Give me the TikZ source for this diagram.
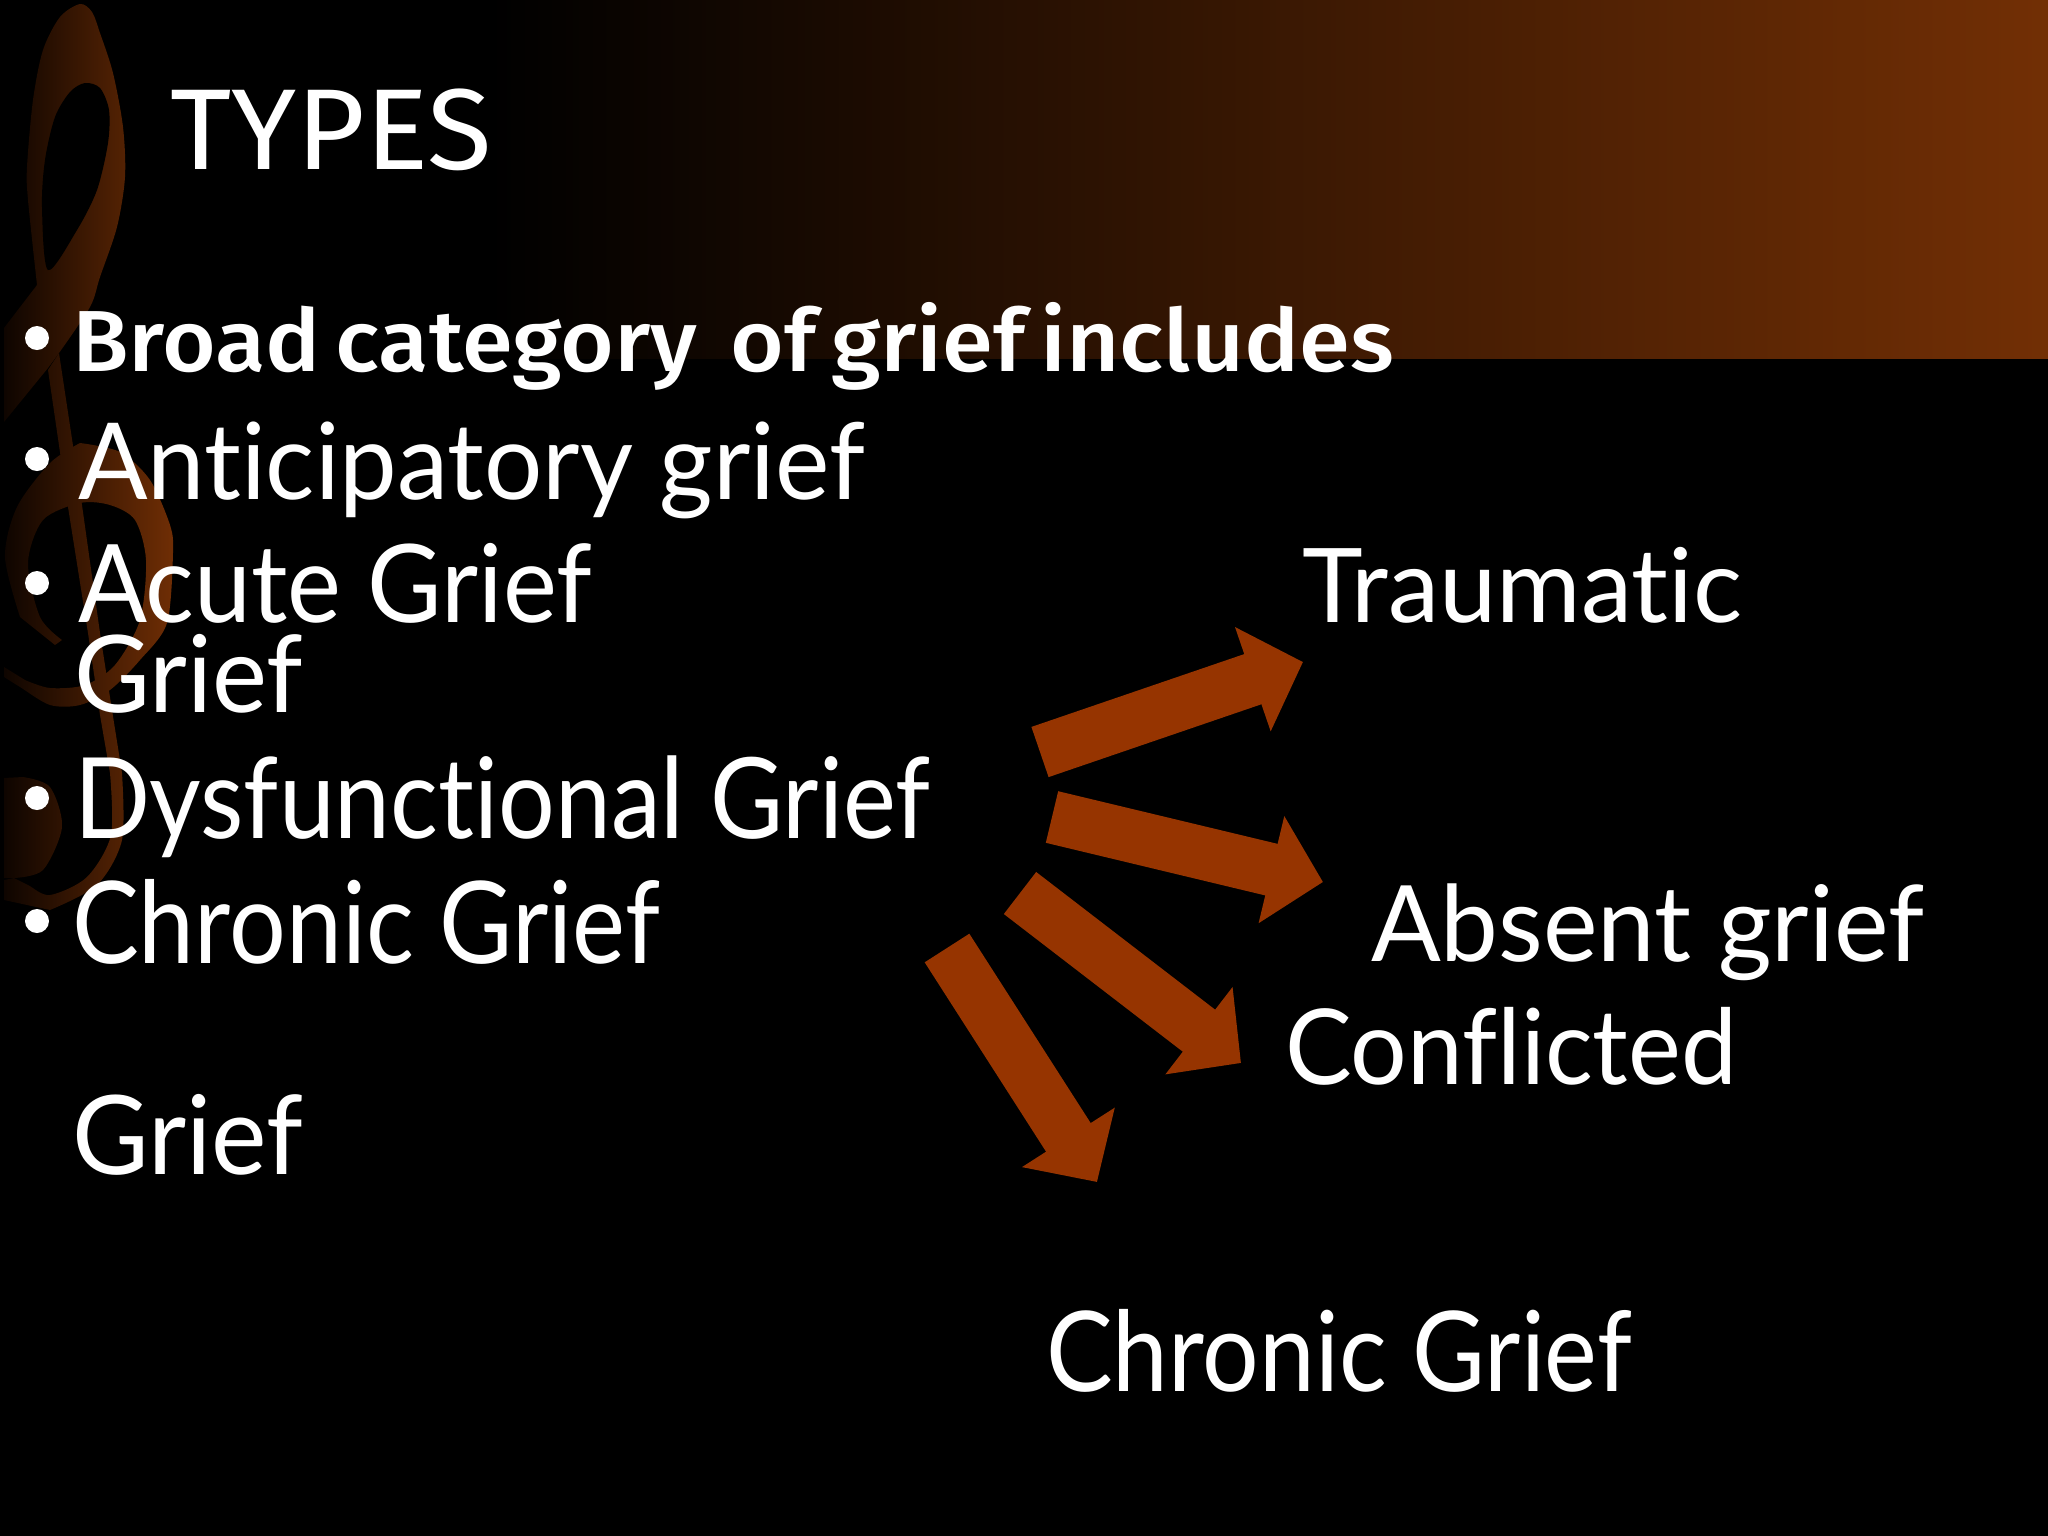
\documentclass[tikz,border=0pt]{standalone}
\usepackage{graphicx}
\usepackage{xcolor}
\usepackage{fontspec}
\usepackage{tikz}
\usetikzlibrary{arrows.meta}
\setmainfont{Fira Sans}
\newfontfamily\comicfont[Ligatures=NoCommon]{Lato}
\newfontfamily\mediumfont{Fira Sans Medium}
\newlength\pxu
\setlength\pxu{0.01cm}
\newcommand{\fitbox}[3]{\resizebox*{#1\pxu}{#2\pxu}{#3}}
\newcommand{\clefpart}[1]{\begin{scope}\clip #1;\shade[left color=clefdark,right color=clefbrown] (0,0) rectangle (175,920);\end{scope}}
\definecolor{bandbrown}{RGB}{114,47,5}
\definecolor{clefbrown}{RGB}{112,46,5}
\definecolor{clefdark}{RGB}{12,4,0}
\definecolor{arrowbrown}{RGB}{150,52,0}
\tikzset{
  plaintext/.style={anchor=north west,inner sep=0pt,outer sep=0pt,text=white},
  comictext/.style={plaintext,font=\comicfont},
  listdot/.style={circle,fill=white,inner sep=0pt,minimum size=24\pxu},
  blockarrow/.style={draw=arrowbrown,line width=15.08pt,-{Triangle[width=30.44pt,length=15.08pt]}}
}
\begin{document}
\begin{tikzpicture}[x=0.01cm,y=-0.01cm]
\useasboundingbox (0,0) rectangle (2048,1536);
\fill[black] (0,0) rectangle (2048,1536);

% Top band
\shade[left color=black,right color=bandbrown] (490,0) rectangle (2048,358);

% Treble clef
\clefpart{(4,328) -- plot[smooth] coordinates {(37,285) (28,200) (27,167) (33,100) (43,50) (60,17) (80,4) (92,12) (100,33) (113,73) (123,127) (125,177) (117,227) (100,277) (90,307) (59,353)} -- (48,368) -- (4,422) -- cycle}
\fill[black] plot[smooth cycle] coordinates {(48,270) (42,207) (45,160) (55,117) (70,92) (85,83) (100,88) (109,110) (108,143) (97,190) (77,230)};
\clefpart{plot[smooth] coordinates {(80,443) (120,452) (150,480) (170,525) (173,553) (167,623) (140,660) (110,690) (80,705) (50,705) (20,687) (4,677)} -- (4,667) -- plot[smooth] coordinates {(25,680) (50,688) (85,685) (115,665) (140,620) (146,560) (135,520) (110,505) (80,503) (43,520) (28,563) (40,617) (62,640)} -- (55,645) -- plot[smooth] coordinates {(20,617) (5,557) (17,507) (50,463) (80,443)} -- cycle}
\clefpart{(48,370) -- (68,507) -- (88,633) -- (100,715) -- plot[smooth] coordinates {(110,773) (111,835) (87,877) (50,895) (28,885) (14,878)} -- (4,880) -- (4,900) -- plot[smooth] coordinates {(50,910) (97,885) (122,840) (122,773)} -- (112,710) -- (100,633) -- (82,505) -- (59,353) -- cycle}
\clefpart{(4,778) -- plot[smooth] coordinates {(23,777) (50,787) (62,827) (43,870) (14,878)} -- (4,878) -- cycle}

% Block arrows
\coordinate (tailA) at (1040,752);
\coordinate (tipA) at (1303,662);
\coordinate (tailB) at (1052,817);
\coordinate (tipB) at (1323,882);
\coordinate (tailC) at (1020,893);
\coordinate (tipC) at (1241,1063);
\coordinate (tailD) at (947,948);
\coordinate (tipD) at (1097,1182);
\draw[blockarrow] (tailA) -- (tipA);
\draw[blockarrow] (tailB) -- (tipB);
\draw[blockarrow] (tailC) -- (tipC);
\draw[blockarrow] (tailD) -- (tipD);

% Title and list
\node[plaintext] (title) at (170,89) {\fitbox{322}{82}{TYPES}};
\node[listdot] (dotA) at (37,338) {};
\node[listdot] (dotB) at (37,459) {};
\node[listdot] (dotC) at (37,583) {};
\node[listdot] (dotD) at (37,798) {};
\node[listdot] (dotE) at (37,921) {};
\node[plaintext] (broad) at (72,302) {\fitbox{1322}{88}{\mediumfont\spaceskip=0.16em Broad category\hspace{0.2em} of grief includes}};
\node[comictext] (anticipatory) at (78,422) {\fitbox{787}{97}{Anticipatory grief}};
\node[comictext] (acute) at (78,543) {\fitbox{514}{80}{Acute Grief}};
\node[comictext] (griefA) at (74,634) {\fitbox{229}{79}{Grief}};
\node[comictext] (dysfunctional) at (74,756) {\fitbox{856}{102}{Dysfunctional Grief}};
\node[comictext] (chronicA) at (72,879) {\fitbox{588}{85}{Chronic Grief}};
\node[comictext] (griefB) at (72,1094) {\fitbox{231}{81}{Grief}};

% Right column
\node[comictext] (traumatic) at (1302,547) {\fitbox{440}{76}{Traumatic}};
\node[comictext] (absent) at (1371,884) {\fitbox{553}{97}{Absent grief}};
\node[comictext] (conflicted) at (1285,1007) {\fitbox{452}{78}{Conflicted}};
\node[comictext] (chronicB) at (1046,1309) {\fitbox{586}{83}{Chronic Grief}};
\end{tikzpicture}
\end{document}
